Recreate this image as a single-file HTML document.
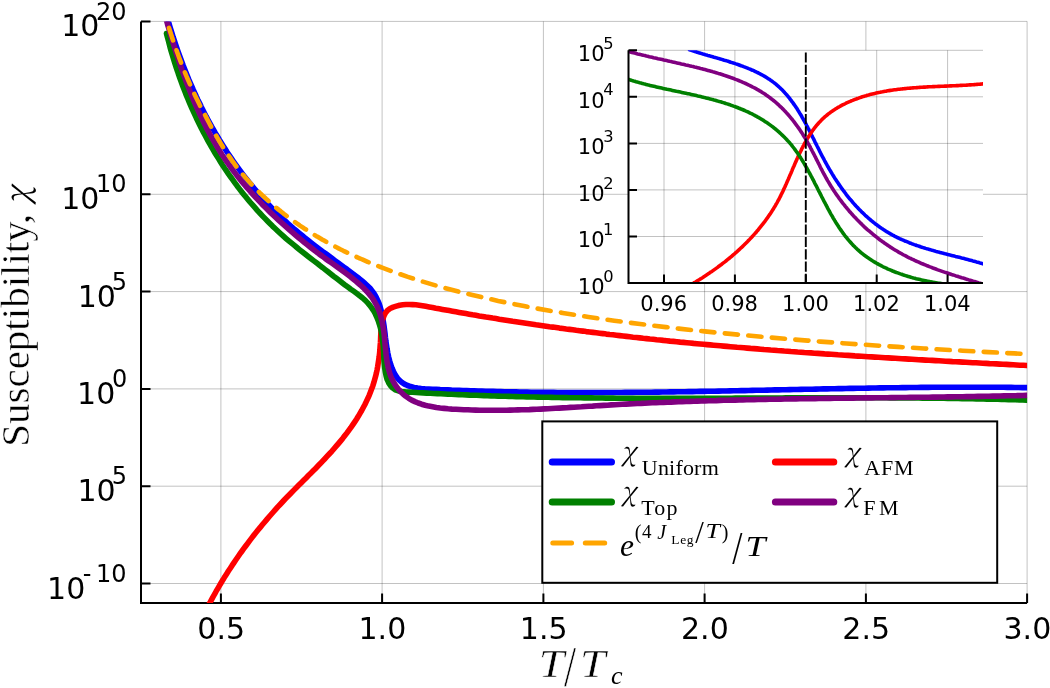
<!DOCTYPE html>
<html><head><meta charset="utf-8"><title>Susceptibility plot</title>
<style>html,body{margin:0;padding:0;background:#fff;}svg{display:block;}.tk{font-family:"DejaVu Sans","Liberation Sans",sans-serif;fill:#000;}.mt{font-family:"Liberation Serif","DejaVu Serif",serif;fill:#000;}.th{stroke:#fff;stroke-width:0.5px;}.gk{font-family:"Noto Serif CJK SC","Liberation Serif",serif;fill:#000;}</style></head><body>
<svg width="1050" height="688" viewBox="0 0 1050 688">
<rect width="1050" height="688" fill="#fff"/>
<defs><clipPath id="cm"><rect x="141.0" y="21.4" width="886.1" height="581.6"/></clipPath>
<clipPath id="ci"><rect x="628.5" y="50.3" width="354.5" height="232.7"/></clipPath></defs>
<path d="M220.9 21.4V603.0M382.1 21.4V603.0M543.4 21.4V603.0M704.6 21.4V603.0M865.9 21.4V603.0M1027.1 21.4V603.0" stroke="#000" stroke-opacity="0.24" stroke-width="1" fill="none"/>
<path d="M141.0 21.4H1027.1M141.0 194.3H1027.1M141.0 291.6H1027.1M141.0 388.9H1027.1M141.0 486.2H1027.1M141.0 583.5H1027.1" stroke="#000" stroke-opacity="0.24" stroke-width="1" fill="none"/>
<path d="M141.0 21.4V603.0H1027.1" stroke="#000" stroke-width="2" fill="none"/>
<path d="M220.9 603.0V593.5M382.1 603.0V593.5M543.4 603.0V593.5M704.6 603.0V593.5M865.9 603.0V593.5M1027.1 603.0V593.5M141.0 21.4H150.5M141.0 194.3H150.5M141.0 291.6H150.5M141.0 388.9H150.5M141.0 486.2H150.5M141.0 583.5H150.5" stroke="#000" stroke-width="2" fill="none"/>
<text class="tk" x="221.2" y="638.6" font-size="30" text-anchor="middle">0.5</text>
<text class="tk" x="382.4" y="638.6" font-size="30" text-anchor="middle">1.0</text>
<text class="tk" x="543.7" y="638.6" font-size="30" text-anchor="middle">1.5</text>
<text class="tk" x="704.9" y="638.6" font-size="30" text-anchor="middle">2.0</text>
<text class="tk" x="866.2" y="638.6" font-size="30" text-anchor="middle">2.5</text>
<text class="tk" x="1027.4" y="638.6" font-size="30" text-anchor="middle">3.0</text>
<text class="tk" x="61.2" y="36.4" font-size="30">10</text>
<text class="tk" x="95.9" y="19.5" font-size="24">20</text>
<text class="tk" x="61.2" y="209.3" font-size="30">10</text>
<text class="tk" x="95.9" y="192.4" font-size="24">10</text>
<text class="tk" x="77.7" y="306.6" font-size="30">10</text>
<text class="tk" x="111.7" y="289.7" font-size="24">5</text>
<text class="tk" x="77.1" y="403.9" font-size="30">10</text>
<text class="tk" x="112.0" y="387.0" font-size="24">0</text>
<text class="tk" x="77.5" y="501.2" font-size="30">10</text>
<text class="tk" x="111.7" y="484.3" font-size="24">5</text>
<text class="tk" x="47.1" y="598.5" font-size="30">10</text>
<text class="tk" x="96.0" y="581.6" font-size="24">10</text>
<text class="tk" x="82.8" y="581.6" font-size="24">-</text>
<g clip-path="url(#cm)" fill="none" stroke-linejoin="round" stroke-linecap="round">
<path d="M157.0 -24.6 157.8 -21.0 158.5 -17.3 159.4 -13.7 160.2 -10.0 161.0 -6.4 161.9 -2.8 162.8 0.9 163.7 4.5 164.7 8.1 165.7 11.7 166.6 15.4 167.7 19.0 168.7 22.6 169.8 26.2 170.9 29.8 172.0 33.4 173.1 37.0 174.3 40.5 175.5 44.1 176.7 47.7 177.9 51.2 179.2 54.8 180.5 58.3 181.8 61.8 183.1 65.3 184.5 68.8 185.9 72.3 187.3 75.8 188.7 79.3 190.2 82.8 191.7 86.2 193.2 89.7 194.8 93.1 196.3 96.5 197.9 99.9 199.6 103.3 201.2 106.7 202.9 110.0 204.6 113.4 206.3 116.7 208.1 120.0 209.9 123.3 211.7 126.6 213.6 129.9 215.4 133.1 217.3 136.3 219.2 139.5 221.2 142.7 223.2 145.9 225.2 149.1 227.2 152.2 229.3 155.3 231.4 158.4 233.5 161.5 235.7 164.6 237.9 167.6 240.1 170.6 242.3 173.6 244.6 176.6 246.9 179.5 249.2 182.4 251.6 185.3 254.0 188.2 256.4 191.1 258.8 193.9 261.3 196.7 263.8 199.5 266.3 202.2 268.9 205.0 271.5 207.7 274.1 210.3 276.8 213.0 279.5 215.6 282.2 218.2 285.0 220.7 287.7 223.3 290.6 225.8 293.4 228.3 296.3 230.7 299.2 233.1 302.1 235.5 305.0 237.9 308.0 240.2 311.0 242.6 313.9 244.9 316.9 247.2 319.9 249.4 322.9 251.7 326.0 253.9 329.0 256.1 332.0 258.3 335.0 260.6 338.0 262.8 341.0 265.0 344.0 267.2 347.1 269.4 350.1 271.7 353.1 274.0 356.1 276.3 359.2 278.6 362.1 281.0 365.0 283.4 367.7 286.0 370.3 288.6 372.5 291.4 374.6 294.4 376.3 297.4 377.8 300.6 379.2 303.9 380.3 307.4 381.3 310.9 382.1 314.5 382.8 318.2 383.4 321.9 384.0 325.7 384.5 329.5 385.0 333.4 385.4 337.3 385.9 341.3 386.5 345.2 387.1 349.1 387.8 353.0 388.6 356.9 389.6 360.7 390.7 364.5 392.0 368.1 393.5 371.5 395.2 374.7 397.1 377.6 399.3 380.2 401.8 382.3 404.5 384.1 407.5 385.5 410.7 386.6 414.1 387.4 417.6 388.1 421.3 388.5 425.0 388.8 428.8 389.0 432.6 389.2 436.4 389.4 440.2 389.6 444.0 389.7 447.8 389.9 451.6 390.1 455.4 390.2 459.2 390.3 462.9 390.5 466.7 390.6 470.5 390.8 474.3 390.9 478.1 391.0 481.9 391.1 485.7 391.2 489.5 391.3 493.2 391.4 497.0 391.5 500.8 391.6 504.6 391.7 508.4 391.8 512.1 391.9 515.9 391.9 519.7 392.0 523.5 392.1 527.2 392.1 531.0 392.2 534.8 392.2 538.5 392.3 542.3 392.3 546.1 392.4 549.8 392.4 553.6 392.4 557.4 392.5 561.1 392.5 564.9 392.5 568.7 392.5 572.4 392.5 576.2 392.6 580.0 392.6 583.7 392.6 587.5 392.6 591.2 392.6 595.0 392.6 598.7 392.6 602.5 392.6 606.3 392.5 610.0 392.5 613.8 392.5 617.5 392.5 621.3 392.5 625.0 392.4 628.8 392.4 632.5 392.4 636.3 392.3 640.0 392.3 643.8 392.3 647.5 392.2 651.3 392.2 655.0 392.1 658.8 392.1 662.5 392.0 666.3 392.0 670.0 391.9 673.8 391.9 677.5 391.8 681.2 391.8 685.0 391.7 688.7 391.6 692.5 391.6 696.2 391.5 700.0 391.4 703.7 391.4 707.5 391.3 711.2 391.2 714.9 391.2 718.7 391.1 722.4 391.0 726.2 391.0 729.9 390.9 733.6 390.8 737.4 390.7 741.1 390.6 744.9 390.6 748.6 390.5 752.3 390.4 756.1 390.3 759.8 390.3 763.6 390.2 767.3 390.1 771.1 390.0 774.8 389.9 778.5 389.9 782.3 389.8 786.0 389.7 789.8 389.6 793.5 389.5 797.2 389.5 801.0 389.4 804.7 389.3 808.5 389.2 812.2 389.2 815.9 389.1 819.7 389.0 823.4 388.9 827.2 388.9 830.9 388.8 834.7 388.7 838.4 388.6 842.1 388.6 845.9 388.5 849.6 388.4 853.4 388.4 857.1 388.3 860.9 388.2 864.6 388.2 868.4 388.1 872.1 388.0 875.9 388.0 879.6 387.9 883.4 387.9 887.1 387.8 890.8 387.8 894.6 387.7 898.3 387.7 902.1 387.6 905.8 387.6 909.6 387.5 913.4 387.5 917.1 387.5 920.9 387.4 924.6 387.4 928.4 387.4 932.1 387.3 935.9 387.3 939.6 387.3 943.4 387.3 947.2 387.2 950.9 387.2 954.7 387.2 958.4 387.2 962.2 387.2 966.0 387.2 969.7 387.2 973.5 387.2 977.2 387.2 981.0 387.2 984.8 387.2 988.5 387.2 992.3 387.3 996.1 387.3 999.8 387.3 1003.6 387.3 1007.4 387.4 1011.2 387.4 1014.9 387.5 1018.7 387.5 1022.5 387.6 1026.3 387.6 1030.0 387.7" stroke="#0000ff" stroke-width="5.6"/>
<path d="M205.1 612.0 206.6 609.0 208.2 606.0 209.7 603.0 211.3 600.1 212.9 597.1 214.6 594.2 216.2 591.2 217.9 588.3 219.6 585.4 221.3 582.5 223.1 579.6 224.8 576.7 226.6 573.9 228.4 571.0 230.3 568.2 232.1 565.4 234.0 562.6 235.9 559.8 237.8 557.0 239.7 554.2 241.7 551.5 243.7 548.7 245.7 546.0 247.7 543.3 249.7 540.6 251.8 537.9 253.8 535.3 255.9 532.6 258.0 530.0 260.2 527.4 262.3 524.8 264.5 522.2 266.7 519.6 268.9 517.0 271.1 514.5 273.3 512.0 275.6 509.4 277.8 506.9 280.1 504.5 282.4 502.0 284.7 499.5 287.1 497.1 289.4 494.7 291.8 492.3 294.1 489.9 296.5 487.5 298.9 485.1 301.3 482.7 303.7 480.3 306.1 477.9 308.4 475.5 310.8 473.2 313.2 470.8 315.6 468.4 317.9 466.0 320.3 463.6 322.6 461.1 324.9 458.7 327.2 456.2 329.5 453.8 331.8 451.3 334.0 448.7 336.2 446.2 338.4 443.6 340.5 441.1 342.7 438.4 344.7 435.8 346.8 433.1 348.8 430.4 350.8 427.7 352.7 424.9 354.6 422.1 356.5 419.2 358.3 416.3 360.0 413.4 361.7 410.5 363.3 407.5 364.9 404.5 366.4 401.4 367.8 398.4 369.2 395.3 370.4 392.2 371.6 389.0 372.8 385.9 373.8 382.7 374.7 379.5 375.6 376.3 376.4 373.0 377.1 369.8 377.7 366.5 378.2 363.2 378.7 359.9 379.2 356.5 379.6 353.2 379.9 349.8 380.1 346.4 380.4 343.0 380.6 339.5 380.7 336.1 380.9 332.6 381.1 329.2 381.5 325.8 382.0 322.5 382.8 319.2 383.9 316.1 385.4 313.1 387.4 310.5 390.1 308.5 393.2 307.1 396.4 306.1 399.6 305.3 402.8 304.8 406.0 304.5 409.3 304.5 412.6 304.6 415.9 304.8 419.2 305.2 422.5 305.7 425.8 306.3 429.2 306.9 432.5 307.5 435.8 308.2 439.2 308.8 442.5 309.4 445.8 310.0 449.2 310.6 452.5 311.2 455.9 311.8 459.2 312.4 462.5 313.0 465.9 313.6 469.2 314.2 472.6 314.8 475.9 315.3 479.2 315.9 482.6 316.4 485.9 317.0 489.3 317.5 492.6 318.1 495.9 318.6 499.3 319.2 502.6 319.7 506.0 320.2 509.3 320.7 512.6 321.3 516.0 321.8 519.3 322.3 522.7 322.8 526.0 323.3 529.4 323.8 532.7 324.3 536.0 324.8 539.4 325.2 542.7 325.7 546.1 326.2 549.4 326.7 552.8 327.1 556.1 327.6 559.5 328.1 562.8 328.5 566.2 329.0 569.5 329.4 572.8 329.8 576.2 330.3 579.5 330.7 582.9 331.1 586.2 331.6 589.6 332.0 592.9 332.4 596.3 332.8 599.6 333.2 603.0 333.6 606.3 334.1 609.7 334.5 613.0 334.8 616.4 335.2 619.7 335.6 623.1 336.0 626.4 336.4 629.8 336.8 633.1 337.2 636.5 337.5 639.8 337.9 643.2 338.3 646.5 338.6 649.9 339.0 653.2 339.3 656.6 339.7 659.9 340.0 663.3 340.4 666.6 340.7 670.0 341.1 673.4 341.4 676.7 341.7 680.1 342.1 683.4 342.4 686.8 342.7 690.1 343.0 693.5 343.4 696.8 343.7 700.2 344.0 703.5 344.3 706.9 344.6 710.3 344.9 713.6 345.2 717.0 345.5 720.3 345.8 723.7 346.1 727.0 346.4 730.4 346.7 733.8 347.0 737.1 347.3 740.5 347.5 743.8 347.8 747.2 348.1 750.6 348.4 753.9 348.6 757.3 348.9 760.6 349.2 764.0 349.5 767.4 349.7 770.7 350.0 774.1 350.2 777.4 350.5 780.8 350.7 784.2 351.0 787.5 351.2 790.9 351.5 794.2 351.7 797.6 352.0 801.0 352.2 804.3 352.5 807.7 352.7 811.0 352.9 814.4 353.2 817.8 353.4 821.1 353.6 824.5 353.9 827.9 354.1 831.2 354.3 834.6 354.5 838.0 354.8 841.3 355.0 844.7 355.2 848.1 355.4 851.4 355.6 854.8 355.9 858.1 356.1 861.5 356.3 864.9 356.5 868.2 356.7 871.6 356.9 875.0 357.1 878.3 357.3 881.7 357.5 885.1 357.7 888.4 357.9 891.8 358.1 895.2 358.3 898.5 358.5 901.9 358.7 905.3 358.9 908.7 359.1 912.0 359.3 915.4 359.5 918.8 359.7 922.1 359.9 925.5 360.1 928.9 360.3 932.2 360.4 935.6 360.6 939.0 360.8 942.3 361.0 945.7 361.2 949.1 361.4 952.5 361.6 955.8 361.7 959.2 361.9 962.6 362.1 965.9 362.3 969.3 362.5 972.7 362.7 976.1 362.8 979.4 363.0 982.8 363.2 986.2 363.4 989.5 363.6 992.9 363.7 996.3 363.9 999.7 364.1 1003.0 364.3 1006.4 364.4 1009.8 364.6 1013.2 364.8 1016.5 365.0 1019.9 365.2 1023.3 365.3 1026.7 365.5 1030.0 365.7" stroke="#ff0000" stroke-width="5.6"/>
<path d="M166.5 33.5 167.4 37.0 168.3 40.4 169.2 43.9 170.1 47.4 171.1 50.9 172.1 54.3 173.2 57.8 174.2 61.2 175.3 64.7 176.4 68.1 177.6 71.5 178.7 74.9 179.9 78.3 181.2 81.7 182.4 85.1 183.7 88.4 185.0 91.8 186.3 95.1 187.7 98.5 189.1 101.8 190.5 105.1 191.9 108.4 193.4 111.7 194.9 114.9 196.4 118.2 198.0 121.4 199.6 124.7 201.2 127.9 202.8 131.1 204.5 134.3 206.2 137.4 207.9 140.6 209.6 143.7 211.4 146.8 213.2 149.9 215.0 153.0 216.9 156.1 218.8 159.1 220.7 162.2 222.6 165.2 224.6 168.2 226.6 171.1 228.6 174.1 230.7 177.0 232.8 179.9 234.9 182.8 237.0 185.7 239.2 188.6 241.4 191.4 243.6 194.2 245.9 197.0 248.1 199.7 250.4 202.5 252.8 205.2 255.2 207.9 257.5 210.6 260.0 213.2 262.4 215.8 264.9 218.4 267.4 221.0 269.9 223.5 272.5 226.1 275.1 228.5 277.7 231.0 280.4 233.5 283.1 235.9 285.8 238.3 288.5 240.6 291.3 242.9 294.1 245.2 296.9 247.5 299.7 249.8 302.5 252.0 305.4 254.3 308.2 256.5 311.1 258.7 313.9 260.9 316.8 263.1 319.6 265.3 322.4 267.4 325.2 269.6 328.0 271.8 330.8 274.0 333.6 276.2 336.4 278.3 339.3 280.5 342.1 282.7 345.0 284.9 347.9 287.0 350.8 289.2 353.8 291.3 356.8 293.5 359.7 295.7 362.6 298.0 365.3 300.4 367.7 302.9 370.0 305.6 372.0 308.4 373.9 311.3 375.5 314.3 376.9 317.5 378.2 320.7 379.3 324.0 380.3 327.4 381.1 330.9 381.8 334.4 382.3 338.0 382.8 341.7 383.2 345.4 383.4 349.1 383.7 352.9 383.8 356.7 384.0 360.5 384.3 364.3 384.7 368.1 385.3 371.9 386.1 375.7 387.1 379.4 388.6 382.7 390.4 385.6 392.7 388.0 395.4 389.8 398.5 391.0 401.8 391.6 405.4 391.9 408.9 392.1 412.5 392.3 416.0 392.5 419.6 392.7 423.2 392.9 426.7 393.1 430.3 393.3 433.9 393.5 437.4 393.6 441.0 393.8 444.6 394.0 448.1 394.2 451.7 394.3 455.3 394.5 458.8 394.6 462.4 394.8 466.0 394.9 469.6 395.1 473.1 395.2 476.7 395.3 480.3 395.5 483.9 395.6 487.4 395.7 491.0 395.9 494.6 396.0 498.2 396.1 501.7 396.2 505.3 396.3 508.9 396.4 512.5 396.5 516.1 396.6 519.7 396.7 523.2 396.8 526.8 396.9 530.4 397.0 534.0 397.0 537.6 397.1 541.2 397.2 544.7 397.3 548.3 397.3 551.9 397.4 555.5 397.5 559.1 397.5 562.7 397.6 566.3 397.6 569.9 397.7 573.5 397.7 577.0 397.8 580.6 397.8 584.2 397.9 587.8 397.9 591.4 397.9 595.0 398.0 598.6 398.0 602.2 398.0 605.8 398.1 609.4 398.1 613.0 398.1 616.6 398.2 620.2 398.2 623.8 398.2 627.4 398.2 631.0 398.2 634.6 398.2 638.2 398.3 641.8 398.3 645.4 398.3 649.0 398.3 652.5 398.3 656.1 398.3 659.7 398.3 663.3 398.3 666.9 398.3 670.5 398.3 674.1 398.3 677.7 398.3 681.3 398.3 684.9 398.3 688.5 398.3 692.1 398.3 695.7 398.3 699.4 398.3 703.0 398.3 706.6 398.2 710.2 398.2 713.8 398.2 717.4 398.2 721.0 398.2 724.6 398.2 728.2 398.2 731.8 398.2 735.4 398.1 739.0 398.1 742.6 398.1 746.2 398.1 749.8 398.1 753.4 398.1 757.0 398.1 760.6 398.0 764.2 398.0 767.8 398.0 771.4 398.0 775.0 398.0 778.6 398.0 782.2 398.0 785.8 397.9 789.4 397.9 793.0 397.9 796.6 397.9 800.2 397.9 803.8 397.9 807.4 397.9 811.0 397.9 814.6 397.8 818.2 397.8 821.8 397.8 825.4 397.8 829.0 397.8 832.6 397.8 836.2 397.8 839.8 397.8 843.4 397.8 847.0 397.8 850.6 397.8 854.2 397.8 857.8 397.8 861.4 397.8 865.0 397.8 868.6 397.8 872.2 397.8 875.8 397.8 879.4 397.8 883.0 397.8 886.6 397.8 890.2 397.9 893.8 397.9 897.3 397.9 900.9 397.9 904.5 397.9 908.1 398.0 911.7 398.0 915.3 398.0 918.9 398.0 922.5 398.1 926.1 398.1 929.7 398.2 933.3 398.2 936.9 398.2 940.4 398.3 944.0 398.3 947.6 398.4 951.2 398.4 954.8 398.5 958.4 398.5 962.0 398.6 965.5 398.7 969.1 398.7 972.7 398.8 976.3 398.9 979.9 398.9 983.5 399.0 987.0 399.1 990.6 399.2 994.2 399.2 997.8 399.3 1001.4 399.4 1004.9 399.5 1008.5 399.6 1012.1 399.7 1015.7 399.8 1019.2 399.9 1022.8 400.0 1026.4 400.1 1030.0 400.3" stroke="#008000" stroke-width="5.6"/>
<path d="M156.0 -16.9 157.0 -13.4 157.9 -9.8 158.9 -6.2 159.9 -2.7 160.9 0.9 161.9 4.5 162.9 8.1 164.0 11.7 165.0 15.3 166.0 18.9 167.1 22.5 168.1 26.2 169.2 29.8 170.2 33.4 171.3 37.0 172.4 40.6 173.5 44.2 174.7 47.9 175.8 51.5 177.0 55.1 178.2 58.7 179.4 62.3 180.6 65.9 181.8 69.5 183.1 73.0 184.4 76.6 185.7 80.2 187.0 83.7 188.4 87.3 189.8 90.8 191.2 94.3 192.6 97.8 194.1 101.3 195.6 104.8 197.1 108.2 198.7 111.7 200.2 115.1 201.9 118.5 203.5 121.9 205.2 125.3 206.9 128.6 208.7 132.0 210.5 135.3 212.3 138.6 214.2 141.8 216.1 145.1 218.0 148.3 220.0 151.5 222.0 154.7 224.1 157.8 226.2 160.9 228.4 164.0 230.6 167.0 232.8 170.1 235.1 173.1 237.4 176.1 239.7 179.0 242.1 181.9 244.5 184.8 247.0 187.7 249.5 190.5 252.0 193.3 254.5 196.1 257.1 198.9 259.7 201.6 262.3 204.4 265.0 207.1 267.7 209.7 270.4 212.4 273.1 215.0 275.8 217.6 278.6 220.2 281.4 222.7 284.2 225.2 287.0 227.7 289.8 230.2 292.7 232.7 295.5 235.1 298.4 237.5 301.3 239.9 304.2 242.3 307.1 244.6 310.1 247.0 313.0 249.3 316.0 251.6 319.0 253.9 322.1 256.1 325.1 258.4 328.2 260.6 331.4 262.8 334.5 265.0 337.6 267.3 340.7 269.5 343.8 271.8 346.9 274.0 349.9 276.3 352.9 278.7 355.8 281.1 358.6 283.5 361.4 286.0 364.1 288.6 366.6 291.2 369.0 293.9 371.3 296.7 373.4 299.7 375.2 302.7 376.9 305.9 378.3 309.1 379.6 312.5 380.7 316.0 381.6 319.5 382.4 323.2 383.1 326.9 383.7 330.7 384.2 334.6 384.6 338.5 384.9 342.5 385.3 346.5 385.7 350.4 386.1 354.4 386.6 358.3 387.1 362.2 387.9 366.0 388.7 369.7 389.8 373.3 391.0 376.8 392.5 380.1 394.2 383.3 396.1 386.3 398.3 389.1 400.6 391.7 403.1 394.1 405.8 396.3 408.7 398.3 411.7 400.1 414.9 401.6 418.2 403.0 421.6 404.2 425.2 405.2 428.8 406.1 432.6 406.8 436.4 407.5 440.2 408.0 444.1 408.4 448.1 408.8 452.0 409.1 456.0 409.3 460.0 409.5 463.9 409.7 467.9 409.8 471.8 410.0 475.7 410.1 479.6 410.2 483.5 410.2 487.4 410.3 491.2 410.3 495.1 410.3 498.9 410.3 502.8 410.2 506.6 410.2 510.4 410.1 514.2 410.0 518.0 409.9 521.7 409.8 525.5 409.7 529.3 409.6 533.0 409.4 536.8 409.3 540.5 409.1 544.3 408.9 548.0 408.7 551.7 408.5 555.5 408.3 559.2 408.1 562.9 407.9 566.6 407.7 570.3 407.4 574.0 407.2 577.8 407.0 581.5 406.8 585.2 406.5 588.9 406.3 592.6 406.1 596.3 405.8 600.0 405.6 603.7 405.4 607.4 405.2 611.2 404.9 614.9 404.7 618.6 404.5 622.3 404.3 626.1 404.1 629.8 403.9 633.5 403.7 637.3 403.5 641.0 403.4 644.8 403.2 648.5 403.0 652.3 402.8 656.0 402.7 659.8 402.5 663.5 402.4 667.3 402.2 671.0 402.1 674.8 401.9 678.6 401.8 682.3 401.6 686.1 401.5 689.9 401.4 693.7 401.2 697.4 401.1 701.2 401.0 705.0 400.9 708.8 400.8 712.6 400.7 716.3 400.6 720.1 400.4 723.9 400.3 727.7 400.2 731.5 400.1 735.3 400.1 739.1 400.0 742.9 399.9 746.7 399.8 750.5 399.7 754.2 399.6 758.0 399.5 761.8 399.5 765.6 399.4 769.4 399.3 773.2 399.2 777.0 399.2 780.8 399.1 784.6 399.0 788.4 399.0 792.2 398.9 796.1 398.9 799.9 398.8 803.7 398.7 807.5 398.7 811.3 398.6 815.1 398.6 818.9 398.5 822.7 398.5 826.5 398.4 830.3 398.4 834.1 398.3 837.9 398.3 841.7 398.2 845.5 398.2 849.3 398.1 853.1 398.1 856.9 398.0 860.7 398.0 864.5 397.9 868.3 397.9 872.1 397.9 875.9 397.8 879.7 397.8 883.5 397.7 887.3 397.7 891.1 397.6 894.8 397.6 898.6 397.5 902.4 397.5 906.2 397.5 910.0 397.4 913.8 397.4 917.6 397.3 921.3 397.3 925.1 397.2 928.9 397.2 932.7 397.1 936.4 397.1 940.2 397.0 944.0 397.0 947.7 396.9 951.5 396.9 955.3 396.8 959.0 396.7 962.8 396.7 966.5 396.6 970.3 396.6 974.0 396.5 977.8 396.4 981.5 396.4 985.3 396.3 989.0 396.2 992.8 396.1 996.5 396.1 1000.2 396.0 1004.0 395.9 1007.7 395.8 1011.4 395.7 1015.1 395.7 1018.8 395.6 1022.6 395.5 1026.3 395.4 1030.0 395.3" stroke="#800080" stroke-width="5.6"/>
<path d="M156.4 -17.6 158.0 -11.1 159.6 -4.9 161.2 1.2 162.9 7.1 164.5 12.8 166.1 18.3 167.7 23.7 169.3 28.9 170.9 33.9 172.5 38.8 174.1 43.6 175.8 48.2 177.4 52.8 179.0 57.2 180.6 61.4 182.2 65.6 183.8 69.7 185.4 73.6 187.0 77.5 188.7 81.3 190.3 85.0 191.9 88.5 193.5 92.0 195.1 95.5 196.7 98.8 198.3 102.1 199.9 105.3 201.6 108.4 203.2 111.4 204.8 114.4 206.4 117.6 208.0 120.7 209.6 123.8 211.2 126.8 212.8 129.8 214.5 132.7 216.1 135.5 217.7 138.3 219.3 141.0 220.9 143.7 222.5 146.3 224.1 148.8 225.7 151.3 227.3 153.7 229.0 156.1 230.6 158.4 232.2 160.7 233.8 162.9 235.4 165.2 237.0 167.3 238.6 169.4 240.2 171.4 241.9 173.3 243.5 175.3 245.1 177.2 246.7 179.0 248.3 180.9 249.9 182.7 251.5 184.4 253.1 186.2 254.8 187.9 256.4 189.5 258.0 191.1 259.6 192.7 261.2 194.2 262.8 195.8 264.4 197.3 266.0 198.8 267.7 200.3 269.3 201.7 270.9 203.1 272.5 204.5 274.1 205.9 275.7 207.3 277.3 208.6 278.9 209.9 280.6 211.2 282.2 212.5 283.8 213.8 285.4 215.0 287.0 216.3 288.6 217.5 290.2 218.7 291.8 219.9 293.5 221.0 295.1 222.2 296.7 223.3 298.3 224.4 299.9 225.6 301.5 226.6 303.1 227.7 304.7 228.8 306.4 229.8 308.0 230.9 309.6 231.9 311.2 232.9 312.8 233.9 314.4 234.9 316.0 235.9 317.6 236.8 319.3 237.8 320.9 238.7 322.5 239.7 324.1 240.6 325.7 241.5 327.3 242.4 328.9 243.3 330.5 244.1 332.2 245.0 333.8 245.9 335.4 246.7 337.0 247.5 338.6 248.4 340.2 249.2 341.8 250.0 343.4 250.8 345.1 251.6 346.7 252.4 348.3 253.1 349.9 253.9 351.5 254.7 353.1 255.4 354.7 256.1 356.3 256.9 358.0 257.6 359.6 258.3 361.2 259.0 362.8 259.7 364.4 260.4 366.0 261.1 367.6 261.8 369.2 262.5 370.9 263.1 372.5 263.8 374.1 264.5 375.7 265.1 377.3 265.8 378.9 266.4 380.5 267.0 382.1 267.6 395.0 272.4 407.9 276.9 420.8 281.0 433.7 284.9 446.6 288.5 459.5 291.9 472.4 295.0 485.3 298.0 498.2 300.9 511.1 303.5 524.0 306.1 536.9 308.5 549.8 310.8 562.7 312.9 575.6 315.0 588.5 317.0 601.4 318.9 614.3 320.7 627.2 322.4 640.1 324.0 653.0 325.6 665.9 327.1 678.8 328.6 691.7 330.0 704.6 331.4 717.5 332.7 730.4 333.9 743.3 335.1 756.2 336.3 769.1 337.4 782.0 338.5 794.9 339.6 807.8 340.6 820.7 341.6 833.6 342.5 846.5 343.5 859.4 344.4 872.3 345.2 885.2 346.1 898.1 346.9 911.0 347.7 923.9 348.5 936.8 349.3 949.7 350.0 962.6 350.7 975.5 351.4 988.4 352.1 1001.3 352.8 1014.2 353.4 1027.1 354.1 1040.0 354.7" stroke="#ffa500" stroke-width="4.6" stroke-dasharray="13.2 10.4"/>
</g>
<rect x="628.5" y="50.3" width="354.5" height="232.7" fill="#fff"/>
<path d="M664.0 50.3V283.0M734.9 50.3V283.0M876.7 50.3V283.0M947.6 50.3V283.0" stroke="#000" stroke-opacity="0.24" stroke-width="1" fill="none"/>
<path d="M628.5 283.0H983.0M628.5 236.5H983.0M628.5 189.9H983.0M628.5 143.4H983.0M628.5 96.8H983.0M628.5 50.3H983.0" stroke="#000" stroke-opacity="0.24" stroke-width="1" fill="none"/>
<g clip-path="url(#ci)" fill="none" stroke-linejoin="round" stroke-linecap="round">
<path d="M689.5 49.7 690.5 50.0 691.6 50.4 692.7 50.8 693.7 51.1 694.8 51.5 696.0 51.8 697.1 52.2 698.2 52.6 699.4 52.9 700.5 53.3 701.7 53.6 702.9 54.0 704.1 54.3 705.3 54.7 706.5 55.0 707.7 55.4 709.0 55.7 710.2 56.1 711.4 56.4 712.7 56.8 714.0 57.2 715.2 57.5 716.5 57.9 717.8 58.3 719.0 58.6 720.3 59.0 721.6 59.4 722.9 59.8 724.2 60.2 725.5 60.5 726.8 60.9 728.1 61.3 729.4 61.7 730.7 62.2 732.0 62.6 733.3 63.0 734.6 63.4 735.9 63.9 737.2 64.3 738.5 64.7 739.8 65.2 741.1 65.7 742.4 66.1 743.6 66.6 744.9 67.1 746.2 67.6 747.5 68.1 748.7 68.6 750.0 69.1 751.2 69.7 752.5 70.2 753.7 70.7 754.9 71.3 756.1 71.9 757.3 72.5 758.5 73.0 759.7 73.7 760.9 74.3 762.0 74.9 763.2 75.5 764.3 76.2 765.4 76.8 766.5 77.5 767.6 78.2 768.7 78.9 769.8 79.6 770.8 80.4 771.9 81.1 772.9 81.9 773.9 82.6 774.9 83.4 775.9 84.2 776.8 85.0 777.8 85.8 778.7 86.7 779.6 87.5 780.6 88.4 781.5 89.3 782.3 90.1 783.2 91.0 784.1 91.9 784.9 92.9 785.7 93.8 786.6 94.7 787.4 95.7 788.2 96.6 789.0 97.6 789.8 98.6 790.5 99.6 791.3 100.6 792.0 101.6 792.8 102.6 793.5 103.6 794.2 104.6 795.0 105.7 795.7 106.7 796.4 107.8 797.1 108.8 797.7 109.9 798.4 111.0 799.1 112.1 799.7 113.1 800.4 114.2 801.1 115.3 801.7 116.4 802.3 117.6 803.0 118.7 803.6 119.8 804.2 120.9 804.8 122.0 805.5 123.2 806.1 124.3 806.7 125.5 807.3 126.6 807.9 127.8 808.5 128.9 809.1 130.1 809.7 131.2 810.3 132.4 810.9 133.6 811.4 134.7 812.0 135.9 812.6 137.1 813.2 138.2 813.8 139.4 814.4 140.6 814.9 141.8 815.5 142.9 816.1 144.1 816.7 145.3 817.3 146.5 817.9 147.6 818.5 148.8 819.1 150.0 819.6 151.1 820.2 152.3 820.8 153.5 821.4 154.7 822.0 155.8 822.6 157.0 823.3 158.1 823.9 159.3 824.5 160.5 825.1 161.6 825.7 162.8 826.4 163.9 827.0 165.0 827.6 166.2 828.3 167.3 828.9 168.5 829.6 169.6 830.3 170.7 830.9 171.8 831.6 172.9 832.3 174.1 833.0 175.2 833.6 176.3 834.3 177.4 835.0 178.5 835.7 179.5 836.4 180.6 837.2 181.7 837.9 182.8 838.6 183.9 839.3 184.9 840.1 186.0 840.8 187.0 841.5 188.1 842.3 189.1 843.1 190.2 843.8 191.2 844.6 192.2 845.4 193.3 846.1 194.3 846.9 195.3 847.7 196.3 848.5 197.3 849.3 198.3 850.1 199.3 851.0 200.2 851.8 201.2 852.6 202.2 853.4 203.1 854.3 204.1 855.1 205.0 856.0 206.0 856.9 206.9 857.7 207.8 858.6 208.8 859.5 209.7 860.4 210.6 861.3 211.5 862.2 212.4 863.1 213.2 864.0 214.1 864.9 215.0 865.8 215.8 866.8 216.7 867.7 217.5 868.7 218.4 869.6 219.2 870.6 220.0 871.6 220.8 872.6 221.6 873.5 222.4 874.5 223.2 875.5 224.0 876.6 224.7 877.6 225.5 878.6 226.2 879.6 227.0 880.7 227.7 881.7 228.4 882.8 229.1 883.8 229.8 884.9 230.5 886.0 231.2 887.1 231.9 888.2 232.5 889.3 233.2 890.4 233.8 891.5 234.4 892.6 235.1 893.8 235.7 894.9 236.3 896.1 236.9 897.2 237.5 898.4 238.0 899.6 238.6 900.7 239.1 901.9 239.7 903.1 240.2 904.3 240.7 905.6 241.2 906.8 241.7 908.0 242.2 909.2 242.7 910.5 243.2 911.7 243.7 912.9 244.1 914.2 244.6 915.5 245.0 916.7 245.5 918.0 245.9 919.2 246.3 920.5 246.8 921.8 247.2 923.1 247.6 924.4 248.0 925.6 248.4 926.9 248.8 928.2 249.1 929.5 249.5 930.8 249.9 932.1 250.3 933.4 250.6 934.7 251.0 936.0 251.4 937.3 251.7 938.6 252.1 939.9 252.4 941.2 252.7 942.5 253.1 943.8 253.4 945.1 253.8 946.3 254.1 947.6 254.4 948.9 254.7 950.2 255.1 951.5 255.4 952.8 255.7 954.1 256.0 955.4 256.4 956.6 256.7 957.9 257.0 959.2 257.3 960.4 257.6 961.7 258.0 962.9 258.3 964.2 258.6 965.4 258.9 966.7 259.2 967.9 259.6 969.1 259.9 970.4 260.2 971.6 260.5 972.8 260.9 974.0 261.2 975.2 261.5 976.4 261.9 977.6 262.2 978.8 262.5 979.9 262.9 981.1 263.2 982.2 263.6 983.4 263.9 984.5 264.3 985.6 264.7 986.8 265.0" stroke="#0000ff" stroke-width="3.6"/>
<path d="M690.0 285.2 691.1 284.6 692.2 283.9 693.3 283.3 694.4 282.6 695.6 282.0 696.7 281.3 697.8 280.6 698.9 279.9 700.0 279.2 701.1 278.6 702.2 277.9 703.2 277.2 704.3 276.4 705.4 275.7 706.5 275.0 707.6 274.3 708.7 273.6 709.7 272.8 710.8 272.1 711.9 271.4 713.0 270.6 714.0 269.9 715.1 269.1 716.1 268.4 717.2 267.6 718.2 266.8 719.3 266.0 720.3 265.3 721.4 264.5 722.4 263.7 723.4 262.9 724.5 262.1 725.5 261.3 726.5 260.5 727.5 259.6 728.6 258.8 729.6 258.0 730.6 257.2 731.6 256.3 732.6 255.5 733.5 254.6 734.5 253.8 735.5 252.9 736.5 252.1 737.5 251.2 738.4 250.3 739.4 249.4 740.3 248.5 741.3 247.6 742.2 246.8 743.2 245.9 744.1 244.9 745.0 244.0 746.0 243.1 746.9 242.2 747.8 241.3 748.7 240.3 749.6 239.4 750.5 238.4 751.4 237.5 752.3 236.5 753.1 235.6 754.0 234.6 754.9 233.6 755.7 232.7 756.6 231.7 757.4 230.7 758.3 229.7 759.1 228.7 759.9 227.7 760.7 226.7 761.5 225.7 762.3 224.7 763.1 223.6 763.9 222.6 764.7 221.6 765.5 220.5 766.2 219.5 767.0 218.4 767.8 217.4 768.5 216.3 769.2 215.2 770.0 214.2 770.7 213.1 771.4 212.0 772.1 210.9 772.8 209.8 773.5 208.7 774.1 207.6 774.8 206.5 775.5 205.3 776.1 204.2 776.8 203.1 777.4 202.0 778.0 200.8 778.7 199.7 779.3 198.5 779.9 197.3 780.5 196.2 781.0 195.0 781.6 193.8 782.2 192.7 782.8 191.5 783.3 190.3 783.9 189.1 784.4 187.9 785.0 186.7 785.5 185.5 786.1 184.3 786.6 183.1 787.1 181.9 787.6 180.7 788.2 179.5 788.7 178.3 789.2 177.1 789.7 175.9 790.2 174.7 790.8 173.5 791.3 172.3 791.8 171.1 792.3 169.8 792.8 168.6 793.3 167.4 793.9 166.2 794.4 165.0 794.9 163.8 795.4 162.6 796.0 161.4 796.5 160.2 797.0 159.0 797.6 157.8 798.1 156.6 798.6 155.5 799.2 154.3 799.7 153.1 800.3 151.9 800.9 150.8 801.5 149.6 802.0 148.4 802.6 147.3 803.2 146.1 803.8 145.0 804.4 143.8 805.0 142.7 805.7 141.6 806.3 140.5 807.0 139.3 807.6 138.2 808.3 137.1 809.0 136.1 809.6 135.0 810.3 133.9 811.1 132.8 811.8 131.8 812.5 130.7 813.3 129.7 814.0 128.7 814.8 127.7 815.6 126.7 816.4 125.7 817.2 124.7 818.0 123.8 818.8 122.8 819.7 121.9 820.6 121.0 821.4 120.1 822.3 119.2 823.2 118.3 824.2 117.5 825.1 116.6 826.1 115.8 827.1 115.0 828.1 114.2 829.1 113.4 830.1 112.7 831.1 111.9 832.1 111.2 833.2 110.5 834.3 109.8 835.3 109.1 836.4 108.4 837.5 107.7 838.6 107.1 839.8 106.5 840.9 105.8 842.0 105.2 843.2 104.6 844.3 104.1 845.5 103.5 846.6 102.9 847.8 102.4 849.0 101.9 850.2 101.4 851.4 100.8 852.6 100.4 853.8 99.9 855.0 99.4 856.2 99.0 857.4 98.5 858.6 98.1 859.9 97.6 861.1 97.2 862.3 96.8 863.6 96.4 864.8 96.1 866.1 95.7 867.3 95.3 868.6 95.0 869.8 94.6 871.1 94.3 872.4 94.0 873.6 93.7 874.9 93.4 876.2 93.1 877.5 92.8 878.7 92.5 880.0 92.3 881.3 92.0 882.6 91.8 883.9 91.5 885.2 91.3 886.5 91.1 887.8 90.8 889.1 90.6 890.4 90.4 891.7 90.2 893.1 90.0 894.4 89.8 895.7 89.7 897.0 89.5 898.3 89.3 899.6 89.2 901.0 89.0 902.3 88.9 903.6 88.7 904.9 88.6 906.3 88.5 907.6 88.3 908.9 88.2 910.3 88.1 911.6 88.0 912.9 87.9 914.3 87.8 915.6 87.7 916.9 87.6 918.3 87.5 919.6 87.4 920.9 87.3 922.3 87.2 923.6 87.1 924.9 87.1 926.3 87.0 927.6 86.9 928.9 86.8 930.3 86.8 931.6 86.7 932.9 86.6 934.3 86.6 935.6 86.5 936.9 86.5 938.2 86.4 939.6 86.4 940.9 86.3 942.2 86.2 943.5 86.2 944.8 86.1 946.2 86.1 947.5 86.0 948.8 86.0 950.1 85.9 951.4 85.9 952.7 85.8 954.0 85.7 955.3 85.7 956.6 85.6 957.9 85.6 959.2 85.5 960.5 85.4 961.8 85.4 963.1 85.3 964.3 85.2 965.6 85.2 966.9 85.1 968.2 85.0 969.4 84.9 970.7 84.9 972.0 84.8 973.2 84.7 974.5 84.6 975.7 84.5 977.0 84.4 978.2 84.3 979.4 84.2 980.7 84.1 981.9 84.0 983.1 83.8 984.3 83.7 985.5 83.6 986.7 83.4" stroke="#ff0000" stroke-width="3.6"/>
<path d="M626.3 78.6 627.4 79.0 628.6 79.4 629.8 79.8 631.1 80.2 632.3 80.6 633.5 81.0 634.7 81.3 636.0 81.7 637.2 82.0 638.5 82.4 639.7 82.8 641.0 83.1 642.2 83.4 643.5 83.8 644.8 84.1 646.0 84.4 647.3 84.7 648.6 85.1 649.9 85.4 651.2 85.7 652.5 86.0 653.8 86.3 655.1 86.6 656.4 86.9 657.7 87.2 659.0 87.5 660.3 87.8 661.7 88.1 663.0 88.4 664.3 88.7 665.6 89.0 667.0 89.3 668.3 89.5 669.6 89.8 671.0 90.1 672.3 90.4 673.7 90.7 675.0 91.0 676.3 91.3 677.7 91.5 679.0 91.8 680.4 92.1 681.7 92.4 683.1 92.7 684.4 93.0 685.8 93.3 687.1 93.6 688.5 93.8 689.8 94.1 691.2 94.4 692.5 94.7 693.9 95.0 695.2 95.3 696.6 95.6 697.9 96.0 699.3 96.3 700.6 96.6 702.0 96.9 703.3 97.2 704.6 97.6 706.0 97.9 707.3 98.2 708.7 98.6 710.0 98.9 711.3 99.3 712.6 99.6 714.0 100.0 715.3 100.3 716.6 100.7 717.9 101.1 719.3 101.5 720.6 101.8 721.9 102.2 723.2 102.6 724.5 103.0 725.8 103.5 727.1 103.9 728.4 104.3 729.7 104.7 730.9 105.2 732.2 105.6 733.5 106.1 734.8 106.5 736.0 107.0 737.3 107.5 738.5 108.0 739.8 108.5 741.0 109.0 742.3 109.5 743.5 110.0 744.7 110.5 745.9 111.1 747.2 111.6 748.4 112.2 749.6 112.8 750.8 113.4 752.0 113.9 753.1 114.5 754.3 115.2 755.5 115.8 756.6 116.4 757.8 117.1 758.9 117.7 760.1 118.4 761.2 119.1 762.3 119.7 763.5 120.4 764.6 121.2 765.7 121.9 766.8 122.6 767.8 123.3 768.9 124.1 770.0 124.9 771.0 125.6 772.1 126.4 773.1 127.2 774.1 128.0 775.2 128.8 776.2 129.7 777.2 130.5 778.2 131.4 779.1 132.2 780.1 133.1 781.1 134.0 782.0 134.9 783.0 135.8 783.9 136.7 784.8 137.6 785.7 138.6 786.6 139.5 787.5 140.5 788.4 141.4 789.3 142.4 790.1 143.4 791.0 144.4 791.8 145.4 792.6 146.5 793.4 147.5 794.2 148.5 795.0 149.6 795.8 150.7 796.5 151.7 797.3 152.8 798.1 153.9 798.8 155.0 799.5 156.1 800.3 157.2 801.0 158.4 801.7 159.5 802.4 160.6 803.1 161.8 803.8 162.9 804.5 164.1 805.1 165.3 805.8 166.4 806.5 167.6 807.1 168.8 807.8 169.9 808.4 171.1 809.1 172.3 809.7 173.5 810.4 174.7 811.0 175.9 811.7 177.1 812.3 178.3 812.9 179.5 813.6 180.7 814.2 181.9 814.8 183.2 815.4 184.4 816.1 185.6 816.7 186.8 817.3 188.0 817.9 189.3 818.5 190.5 819.1 191.7 819.8 192.9 820.4 194.1 821.0 195.3 821.6 196.6 822.3 197.8 822.9 199.0 823.5 200.2 824.1 201.4 824.8 202.6 825.4 203.8 826.0 205.0 826.7 206.2 827.3 207.4 827.9 208.6 828.6 209.8 829.2 211.0 829.9 212.2 830.5 213.4 831.2 214.6 831.9 215.7 832.6 216.9 833.2 218.1 833.9 219.2 834.6 220.4 835.3 221.5 836.0 222.7 836.7 223.8 837.4 224.9 838.2 226.0 838.9 227.2 839.6 228.3 840.4 229.4 841.1 230.4 841.9 231.5 842.7 232.6 843.4 233.7 844.2 234.7 845.0 235.8 845.8 236.8 846.7 237.8 847.5 238.8 848.3 239.9 849.2 240.9 850.0 241.8 850.9 242.8 851.8 243.8 852.7 244.7 853.6 245.7 854.5 246.6 855.4 247.5 856.4 248.4 857.3 249.3 858.3 250.2 859.3 251.1 860.3 252.0 861.3 252.8 862.3 253.6 863.3 254.4 864.4 255.3 865.4 256.0 866.5 256.8 867.6 257.6 868.7 258.3 869.8 259.1 870.9 259.8 872.0 260.5 873.2 261.2 874.3 261.9 875.5 262.6 876.7 263.3 877.8 263.9 879.0 264.6 880.2 265.2 881.4 265.8 882.6 266.5 883.8 267.1 885.1 267.7 886.3 268.2 887.5 268.8 888.8 269.4 890.1 269.9 891.3 270.4 892.6 271.0 893.9 271.5 895.1 272.0 896.4 272.5 897.7 272.9 899.0 273.4 900.3 273.9 901.6 274.3 902.9 274.8 904.2 275.2 905.5 275.6 906.8 276.0 908.2 276.4 909.5 276.8 910.8 277.2 912.1 277.6 913.4 278.0 914.8 278.3 916.1 278.7 917.4 279.0 918.8 279.3 920.1 279.6 921.4 279.9 922.7 280.2 924.1 280.5 925.4 280.8 926.7 281.1 928.0 281.4 929.4 281.6 930.7 281.9 932.0 282.1 933.3 282.4 934.6 282.6 935.9 282.8 937.2 283.0 938.6 283.2 939.8 283.4 941.1 283.6 942.4 283.8 943.7 284.0 945.0 284.1" stroke="#008000" stroke-width="3.6"/>
<path d="M626.1 50.8 627.5 51.2 629.0 51.6 630.4 52.0 631.9 52.4 633.3 52.7 634.7 53.1 636.2 53.5 637.6 53.9 639.1 54.2 640.5 54.6 642.0 54.9 643.4 55.3 644.8 55.6 646.3 56.0 647.7 56.3 649.2 56.7 650.6 57.0 652.1 57.3 653.5 57.7 655.0 58.0 656.4 58.3 657.9 58.7 659.4 59.0 660.8 59.3 662.3 59.6 663.7 60.0 665.2 60.3 666.6 60.6 668.1 60.9 669.6 61.3 671.0 61.6 672.5 61.9 673.9 62.2 675.4 62.6 676.9 62.9 678.3 63.2 679.8 63.5 681.3 63.9 682.7 64.2 684.2 64.5 685.7 64.9 687.2 65.2 688.6 65.6 690.1 65.9 691.6 66.3 693.1 66.6 694.5 67.0 696.0 67.3 697.5 67.7 699.0 68.1 700.5 68.5 701.9 68.8 703.4 69.2 704.9 69.6 706.4 70.0 707.9 70.4 709.4 70.8 710.9 71.2 712.3 71.6 713.8 72.1 715.3 72.5 716.8 72.9 718.3 73.4 719.7 73.8 721.2 74.3 722.7 74.8 724.1 75.3 725.6 75.7 727.1 76.2 728.5 76.7 730.0 77.2 731.4 77.8 732.9 78.3 734.3 78.8 735.7 79.4 737.1 79.9 738.6 80.5 740.0 81.1 741.4 81.7 742.8 82.3 744.2 82.9 745.6 83.5 746.9 84.1 748.3 84.8 749.7 85.5 751.0 86.1 752.3 86.8 753.7 87.5 755.0 88.2 756.3 88.9 757.6 89.7 758.9 90.4 760.2 91.2 761.5 91.9 762.7 92.7 764.0 93.5 765.2 94.3 766.4 95.2 767.6 96.0 768.8 96.9 770.0 97.8 771.2 98.7 772.4 99.6 773.5 100.5 774.6 101.4 775.8 102.4 776.9 103.3 778.0 104.3 779.0 105.3 780.1 106.3 781.2 107.3 782.2 108.4 783.3 109.4 784.3 110.5 785.3 111.5 786.3 112.6 787.3 113.7 788.3 114.8 789.2 115.9 790.2 117.1 791.1 118.2 792.1 119.3 793.0 120.5 793.9 121.7 794.8 122.9 795.7 124.1 796.6 125.3 797.5 126.5 798.3 127.7 799.2 128.9 800.0 130.1 800.8 131.4 801.7 132.6 802.5 133.9 803.3 135.2 804.1 136.5 804.9 137.7 805.6 139.0 806.4 140.3 807.1 141.6 807.9 143.0 808.6 144.3 809.4 145.6 810.1 146.9 810.8 148.3 811.5 149.6 812.2 151.0 812.9 152.3 813.6 153.6 814.3 155.0 815.0 156.4 815.7 157.7 816.3 159.1 817.0 160.4 817.7 161.8 818.4 163.2 819.1 164.5 819.8 165.9 820.4 167.2 821.1 168.6 821.8 169.9 822.5 171.3 823.2 172.6 823.9 174.0 824.7 175.3 825.4 176.6 826.1 178.0 826.9 179.3 827.6 180.6 828.4 181.9 829.2 183.2 829.9 184.5 830.7 185.8 831.5 187.1 832.3 188.3 833.1 189.6 834.0 190.9 834.8 192.1 835.6 193.4 836.5 194.6 837.4 195.8 838.2 197.0 839.1 198.3 840.0 199.5 840.9 200.7 841.8 201.9 842.7 203.1 843.6 204.2 844.6 205.4 845.5 206.6 846.5 207.7 847.4 208.9 848.4 210.0 849.3 211.2 850.3 212.3 851.3 213.4 852.3 214.5 853.3 215.6 854.3 216.7 855.4 217.8 856.4 218.9 857.4 220.0 858.5 221.0 859.5 222.1 860.6 223.2 861.7 224.2 862.7 225.2 863.8 226.3 864.9 227.3 866.0 228.3 867.1 229.3 868.3 230.3 869.4 231.2 870.5 232.2 871.7 233.2 872.8 234.1 874.0 235.1 875.1 236.0 876.3 236.9 877.5 237.9 878.6 238.8 879.8 239.7 881.0 240.6 882.2 241.4 883.5 242.3 884.7 243.2 885.9 244.0 887.1 244.9 888.4 245.7 889.6 246.5 890.9 247.4 892.2 248.2 893.4 249.0 894.7 249.8 896.0 250.5 897.3 251.3 898.6 252.1 899.9 252.8 901.2 253.5 902.5 254.3 903.8 255.0 905.2 255.7 906.5 256.4 907.8 257.1 909.2 257.8 910.6 258.4 911.9 259.1 913.3 259.7 914.7 260.4 916.0 261.0 917.4 261.6 918.8 262.2 920.2 262.9 921.6 263.5 923.0 264.0 924.4 264.6 925.8 265.2 927.2 265.8 928.6 266.3 930.1 266.9 931.5 267.4 932.9 268.0 934.3 268.5 935.8 269.0 937.2 269.6 938.6 270.1 940.1 270.6 941.5 271.1 942.9 271.6 944.4 272.1 945.8 272.6 947.3 273.0 948.7 273.5 950.1 274.0 951.6 274.5 953.0 274.9 954.5 275.4 955.9 275.9 957.4 276.3 958.8 276.8 960.2 277.2 961.7 277.7 963.1 278.1 964.6 278.5 966.0 279.0 967.4 279.4 968.9 279.9 970.3 280.3 971.7 280.7 973.1 281.2 974.6 281.6 976.0 282.0 977.4 282.4 978.8 282.9 980.2 283.3 981.6 283.7 983.0 284.1 984.4 284.6 985.8 285.0" stroke="#800080" stroke-width="3.6"/>
</g>
<path d="M805.8 283.0V50.3" stroke="#000" stroke-width="1.9" stroke-dasharray="10.2 2.1" stroke-dashoffset="1" fill="none"/>
<path d="M628.5 50.3V283.0H983.0" stroke="#000" stroke-width="2" fill="none"/>
<path d="M664.0 283.0V274.5M734.9 283.0V274.5M805.8 283.0V274.5M876.7 283.0V274.5M947.6 283.0V274.5M628.5 283.0H637.0M628.5 236.5H637.0M628.5 189.9H637.0M628.5 143.4H637.0M628.5 96.8H637.0M628.5 50.3H637.0" stroke="#000" stroke-width="2" fill="none"/>
<text class="tk" x="663.7" y="311.4" font-size="21" text-anchor="middle">0.96</text>
<text class="tk" x="734.6" y="311.4" font-size="21" text-anchor="middle">0.98</text>
<text class="tk" x="805.5" y="311.4" font-size="21" text-anchor="middle">1.00</text>
<text class="tk" x="876.4" y="311.4" font-size="21" text-anchor="middle">1.02</text>
<text class="tk" x="947.3" y="311.4" font-size="21" text-anchor="middle">1.04</text>
<text class="tk" x="577.8" y="293.9" font-size="21">10</text>
<text class="tk" x="603.2" y="281.6" font-size="16.3">0</text>
<text class="tk" x="577.8" y="247.4" font-size="21">10</text>
<text class="tk" x="603.0" y="235.1" font-size="16.3">1</text>
<text class="tk" x="577.8" y="200.8" font-size="21">10</text>
<text class="tk" x="603.2" y="188.5" font-size="16.3">2</text>
<text class="tk" x="577.8" y="154.3" font-size="21">10</text>
<text class="tk" x="603.2" y="142.0" font-size="16.3">3</text>
<text class="tk" x="577.8" y="107.7" font-size="21">10</text>
<text class="tk" x="603.2" y="95.4" font-size="16.3">4</text>
<text class="tk" x="577.8" y="61.2" font-size="21">10</text>
<text class="tk" x="603.2" y="48.9" font-size="16.3">5</text>
<rect x="542.3" y="421.4" width="454.9" height="161.4" fill="#fff" stroke="#000" stroke-width="2"/>
<path d="M552.2 461.9H611.5" stroke="#0000ff" stroke-width="7" stroke-linecap="round"/>
<path d="M775.4 461.9H833.8" stroke="#ff0000" stroke-width="7" stroke-linecap="round"/>
<path d="M552.2 501.9H611.5" stroke="#008000" stroke-width="7" stroke-linecap="round"/>
<path d="M775.4 501.9H833.8" stroke="#800080" stroke-width="7" stroke-linecap="round"/>
<path d="M552.8 543.1H571.6M585.3 543.1H604.7" stroke="#ffa500" stroke-width="5" stroke-linecap="round"/>
<text class="gk" x="621.3" y="461.3" font-size="27" font-style="italic">&#967;</text>
<text class="mt" x="641.8" y="475.3" font-size="22" letter-spacing="0.2">Uniform</text>
<text class="gk" x="844.4" y="461.6" font-size="27" font-style="italic">&#967;</text>
<text class="mt" x="864.2" y="475.3" font-size="22" letter-spacing="0.9">AFM</text>
<text class="gk" x="621.3" y="500.8" font-size="27" font-style="italic">&#967;</text>
<text class="mt" x="641.2" y="515.0" font-size="22" letter-spacing="1.2">Top</text>
<text class="gk" x="844.4" y="502.0" font-size="27" font-style="italic">&#967;</text>
<text class="mt" x="863.2" y="515.0" font-size="22" letter-spacing="3.7">FM</text>
<text class="mt" x="620.1" y="556.2" font-size="31.5" font-style="italic">e</text>
<text class="mt" x="634.8" y="538.7" font-size="20">(</text>
<text class="mt" x="642.1" y="538.4" font-size="19">4</text>
<text class="mt" x="657.2" y="538.6" font-size="20" font-style="italic">J</text>
<text class="mt" x="671.3" y="544.2" font-size="13.5" letter-spacing="0.6">Leg</text>
<text class="mt" transform="translate(695.3 543.3) scale(1.15 1.15)" font-size="26.8">/</text>
<text class="mt" x="705.6" y="538.4" font-size="20" font-style="italic" textLength="14.5" lengthAdjust="spacingAndGlyphs">T</text>
<text class="mt" x="721.8" y="538.7" font-size="20">)</text>
<text class="mt" transform="translate(732.3 564.2) scale(1.0 1.25)" font-size="36.5">/</text>
<text class="mt" x="745.6" y="555.8" font-size="30" font-style="italic" textLength="20" lengthAdjust="spacingAndGlyphs">T</text>
<g transform="translate(28.8 446.8) rotate(-90)"><text class="mt th" x="0" y="0" font-size="41">Susceptibility,</text><text class="gk" x="242.2" y="0" font-size="33" font-style="italic">&#967;</text></g>
<text class="mt th" x="538.7" y="677.4" font-size="40.5" font-style="italic" textLength="25.5" lengthAdjust="spacingAndGlyphs">T</text>
<text class="mt th" transform="translate(564 686) scale(0.95 1.25)" font-size="45.7">/</text>
<text class="mt th" x="579.9" y="677.4" font-size="40.5" font-style="italic" textLength="25.5" lengthAdjust="spacingAndGlyphs">T</text>
<text class="mt" x="611" y="684.3" font-size="26" font-style="italic">c</text>
</svg></body></html>
